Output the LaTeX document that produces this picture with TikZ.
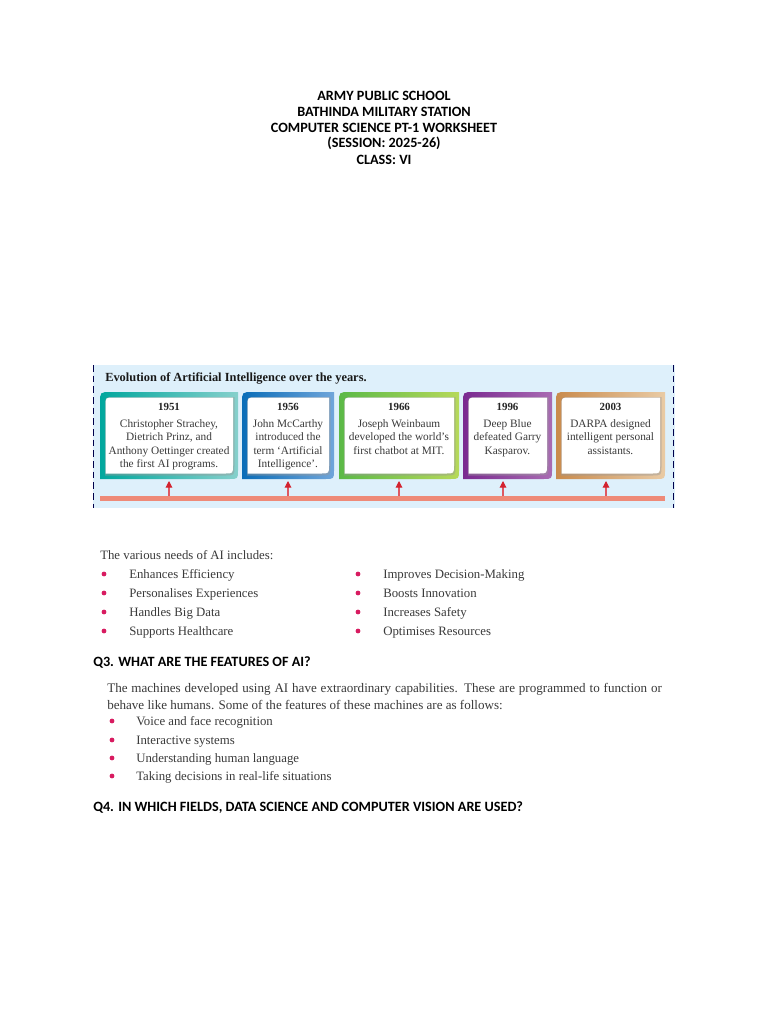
\documentclass[tikz,border=0pt]{standalone}
\usepackage{fontspec}
\setmainfont{Liberation Serif}
\newfontfamily\headfont{Carlito}
\usetikzlibrary{arrows.meta}
\definecolor{ink}{HTML}{3A3A3A}
\definecolor{pinkdot}{HTML}{D81B60}
\definecolor{panelblue}{HTML}{DEF0FB}
\definecolor{barsalmon}{HTML}{EE8A78}
\definecolor{arrowred}{HTML}{D3222E}
\definecolor{tealA}{HTML}{00A79D}
\definecolor{tealB}{HTML}{86D0CC}
\definecolor{blueA}{HTML}{0A6DB8}
\definecolor{blueB}{HTML}{6FA5DA}
\definecolor{greenA}{HTML}{5BB947}
\definecolor{greenB}{HTML}{B6D95A}
\definecolor{purpleA}{HTML}{7A2A90}
\definecolor{purpleB}{HTML}{A96BB3}
\definecolor{tanA}{HTML}{C98B4D}
\definecolor{tanB}{HTML}{E9CBA5}
\tikzset{
  headline/.style={font=\headfont\bfseries\fontsize{10.65}{12}\selectfont,text=black,inner sep=0pt},
  question/.style={headline,anchor=base west},
  bodyline/.style={font=\fontsize{9.6}{11}\selectfont,text=ink,inner sep=0pt,anchor=base west},
  paraline/.style={font=\fontsize{9.8}{11}\selectfont,text=ink,inner sep=0pt,anchor=base west},
  yearlabel/.style={font=\bfseries\fontsize{8.2}{10}\selectfont,text=black!85,inner sep=0pt},
  boxtext/.style={font=\fontsize{8.5}{10.1}\selectfont,text=ink,inner sep=0pt,align=center,anchor=north},
  bulletdot/.style={circle,fill=pinkdot,inner sep=0pt,minimum size=3.6pt},
  riser/.style={draw=arrowred!75!white,line width=0.8pt,-{Triangle[length=5pt,width=5pt,color=arrowred]}},
  boxframe/.style={inner sep=0pt,draw=none},
  panelrule/.style={draw=black!70!blue,line width=0.8pt,dash pattern=on 5pt off 3pt},
}
% frame name, x0, x1, colour left, colour right, year, text, text top
\newcommand{\tlbox}[8]{%
  \node[boxframe,minimum width={(#3-#2)*0.75pt},minimum height={87*0.75pt}] (#1) at ({(#2+#3)/2},435.5) {};
  \path[left color=#4,right color=#5]
    (#2,403) .. controls (#2,392) .. ({#2+11},392) -- (#3,392) -- (#3,470)
    .. controls (#3,479) .. ({#3-9},479) -- (#2,479) -- cycle;
  \fill[black!40,opacity=.45]
    ({#2+5},406) .. controls ({#2+5},397) .. ({#2+14},397) -- ({#3-3.5},397) -- ({#3-3.5},466)
    .. controls ({#3-3.5},475.5) .. ({#3-13},475.5) -- ({#2+5},475.5) -- cycle;
  \fill[white]
    ({#2+5.5},406) .. controls ({#2+5.5},397.5) .. ({#2+14},397.5) -- ({#3-5},397.5) -- ({#3-5},465)
    .. controls ({#3-5},473.5) .. ({#3-13},473.5) -- ({#2+5.5},473.5) -- cycle;
  \node[yearlabel] (#1year) at ({(#2+#3)/2},407) {#6};
  \node[boxtext] (#1text) at ({(#2+#3)/2},#8) {#7};
}
\begin{document}
\begin{tikzpicture}[x=0.75pt,y=-0.75pt]
\useasboundingbox (0,0) rectangle (768,1024);
\fill[white] (0,0) rectangle (768,1024);
% header
\node[headline] (h1) at (384,95.5) {ARMY PUBLIC SCHOOL};
\node[headline] (h2) at (384,111.5) {BATHINDA MILITARY STATION};
\node[headline] (h3) at (384,127.5) {COMPUTER SCIENCE PT-1 WORKSHEET};
\node[headline] (h4) at (384,143.5) {(SESSION: 2025-26)};
\node[headline] (h5) at (384,159.5) {CLASS: VI};
% panel
\fill[panelblue] (93,365) rectangle (675,508);
\coordinate (ruleAa) at (93.5,365); \coordinate (ruleAb) at (93.5,508);
\coordinate (ruleBa) at (673.5,365); \coordinate (ruleBb) at (673.5,508);
\draw[panelrule] (ruleAa) -- (ruleAb);
\draw[panelrule] (ruleBa) -- (ruleBb);
\node[font=\bfseries\fontsize{9.3}{11}\selectfont,text=black!90,inner sep=0pt,anchor=base west] (ptitle) at (105,381) {Evolution of Artificial Intelligence over the years.};
% boxes
\tlbox{bA}{100}{238}{tealA}{tealB}{1951}{Christopher Strachey,\\Dietrich Prinz, and\\Anthony Oettinger created\\the first AI programs.}{419}
\tlbox{bB}{242}{334}{blueA}{blueB}{1956}{John McCarthy\\introduced the\\term ‘Artificial\\Intelligence’.}{419}
\tlbox{bC}{339}{459}{greenA}{greenB}{1966}{Joseph Weinbaum\\developed the world’s\\first chatbot at MIT.}{419}
\tlbox{bD}{463}{552}{purpleA}{purpleB}{1996}{Deep Blue\\defeated Garry\\Kasparov.}{419}
\tlbox{bE}{556}{665}{tanA}{tanB}{2003}{DARPA designed\\intelligent personal\\assistants.}{419}
% bar
\node[fill=barsalmon,inner sep=0pt,minimum width={565*0.75pt},minimum height={5*0.75pt}] (bar) at (382.5,498.5) {};
% risers
\foreach \n/\xx in {bA/169,bB/288,bC/399,bD/503,bE/606}{
  \coordinate (\n foot) at (\xx,496);
  \coordinate (\n tip) at (\xx,481);
  \draw[riser] (\n foot) -- (\n tip);
}
% needs list
\node[bodyline] (needs) at (100,559) {The various needs of AI includes:};
\foreach \n/\yy/\ta/\tb in {1/578/Enhances Efficiency/Improves Decision-Making,
  2/597/Personalises Experiences/Boosts Innovation,
  3/616/Handles Big Data/Increases Safety,
  4/635/Supports Healthcare/Optimises Resources}{
  \node[bulletdot] (la\n) at (104,{\yy-4}) {};
  \node[bodyline] (lt\n) at (129,\yy) {\ta};
  \node[bulletdot] (ra\n) at (358,{\yy-4}) {};
  \node[bodyline] (rt\n) at (383,\yy) {\tb};
}
% Q3
\node[question] (q3) at (93,666) {Q3. WHAT ARE THE FEATURES OF AI?};
\node[paraline] (pa) at (107,692) {\makebox[416pt][s]{The machines developed using AI have extraordinary capabilities. These are programmed to function or}};
\node[paraline] (pb) at (107,709) {behave like humans. Some of the features of these machines are as follows:};
\foreach \n/\yy/\ta in {1/725/Voice and face recognition,2/744/Interactive systems,3/762/Understanding human language,4/780/Taking decisions in real-life situations}{
  \node[bulletdot] (fa\n) at (112,{\yy-4}) {};
  \node[bodyline] (ft\n) at (136,\yy) {\ta};
}
% Q4
\node[question] (q4) at (93,811) {Q4. IN WHICH FIELDS, DATA SCIENCE AND COMPUTER VISION ARE USED?};
\end{tikzpicture}
\end{document}
